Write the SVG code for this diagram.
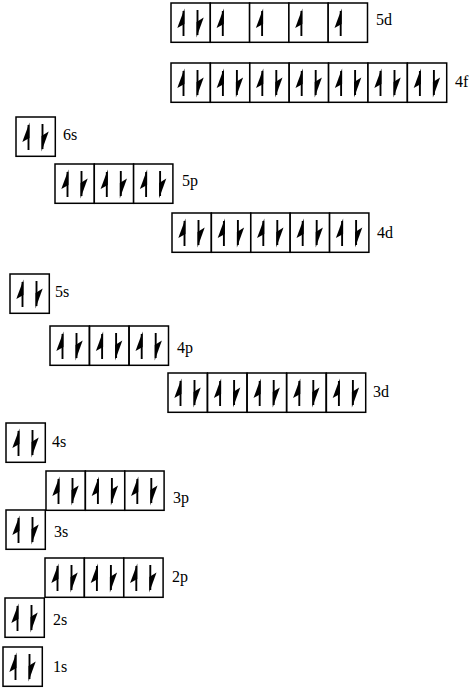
<svg xmlns="http://www.w3.org/2000/svg" xmlns:xlink="http://www.w3.org/1999/xlink" width="474" height="690" viewBox="0 0 474 690">
<style>
.box{fill:#fff;stroke:#000;stroke-width:1.5}
.sh{stroke:#000;stroke-width:1.9;fill:none}
.hd{fill:#000;stroke:none}
.lbl{font-family:"Liberation Serif","Times New Roman",serif;font-size:16px;fill:#000}
</style>
<defs>
<g id="up"><line class="sh" x1="12.5" y1="8" x2="12.5" y2="33"/><polygon class="hd" points="13.5,5.5 6.3,25 13.5,21"/></g>
<g id="dn"><line class="sh" x1="26.5" y1="7" x2="26.5" y2="32"/><polygon class="hd" points="25.5,34.5 32.7,14.5 25.5,19"/></g>
<g id="cp"><rect class="box" x="0" y="0" width="39.3" height="39.3"/><use xlink:href="#up"/><use xlink:href="#dn"/></g>
<g id="cu"><rect class="box" x="0" y="0" width="39.3" height="39.3"/><use xlink:href="#up"/></g>
</defs>
<rect width="474" height="690" fill="#fff"/>
<g id="connectors"/>
<g id="orb-5d">
<use xlink:href="#cp" x="171" y="3"/><use xlink:href="#cu" x="210.3" y="3"/><use xlink:href="#cu" x="249.6" y="3"/><use xlink:href="#cu" x="288.9" y="3"/><use xlink:href="#cu" x="328.2" y="3"/>
<text class="lbl" x="376" y="25">5d</text>
</g>
<g id="orb-4f">
<use xlink:href="#cp" x="171" y="63"/><use xlink:href="#cp" x="210.4" y="63"/><use xlink:href="#cp" x="249.8" y="63"/><use xlink:href="#cp" x="289.2" y="63"/><use xlink:href="#cp" x="328.6" y="63"/><use xlink:href="#cp" x="368" y="63"/><use xlink:href="#cp" x="407.4" y="63"/>
<text class="lbl" x="455" y="87">4f</text>
</g>
<g id="orb-6s">
<use xlink:href="#cp" x="16" y="117"/>
<text class="lbl" x="63" y="140">6s</text>
</g>
<g id="orb-5p">
<use xlink:href="#cp" x="55" y="164"/><use xlink:href="#cp" x="94.3" y="164"/><use xlink:href="#cp" x="133.6" y="164"/>
<text class="lbl" x="182" y="186">5p</text>
</g>
<g id="orb-4d">
<use xlink:href="#cp" x="172" y="213"/><use xlink:href="#cp" x="211.4" y="213"/><use xlink:href="#cp" x="250.8" y="213"/><use xlink:href="#cp" x="290.2" y="213"/><use xlink:href="#cp" x="329.6" y="213"/>
<text class="lbl" x="377" y="238">4d</text>
</g>
<g id="orb-5s">
<use xlink:href="#cp" x="10" y="274"/>
<text class="lbl" x="55" y="297">5s</text>
</g>
<g id="orb-4p">
<use xlink:href="#cp" x="50" y="326"/><use xlink:href="#cp" x="89.6" y="326"/><use xlink:href="#cp" x="129.2" y="326"/>
<text class="lbl" x="177" y="353">4p</text>
</g>
<g id="orb-3d">
<use xlink:href="#cp" x="168" y="373"/><use xlink:href="#cp" x="207.6" y="373"/><use xlink:href="#cp" x="247.2" y="373"/><use xlink:href="#cp" x="286.8" y="373"/><use xlink:href="#cp" x="326.4" y="373"/>
<text class="lbl" x="373" y="397">3d</text>
</g>
<g id="orb-4s">
<use xlink:href="#cp" x="6" y="423"/>
<text class="lbl" x="52" y="447">4s</text>
</g>
<g id="orb-3p">
<use xlink:href="#cp" x="46" y="471"/><use xlink:href="#cp" x="85.4" y="471"/><use xlink:href="#cp" x="124.8" y="471"/>
<text class="lbl" x="173" y="503">3p</text>
</g>
<g id="orb-3s">
<use xlink:href="#cp" x="6" y="510"/>
<text class="lbl" x="54" y="537">3s</text>
</g>
<g id="orb-2p">
<use xlink:href="#cp" x="45" y="558"/><use xlink:href="#cp" x="84.4" y="558"/><use xlink:href="#cp" x="123.8" y="558"/>
<text class="lbl" x="172" y="582">2p</text>
</g>
<g id="orb-2s">
<use xlink:href="#cp" x="5" y="598"/>
<text class="lbl" x="53" y="625">2s</text>
</g>
<g id="orb-1s">
<use xlink:href="#cp" x="3" y="647"/>
<text class="lbl" x="53" y="672">1s</text>
</g>
</svg>
